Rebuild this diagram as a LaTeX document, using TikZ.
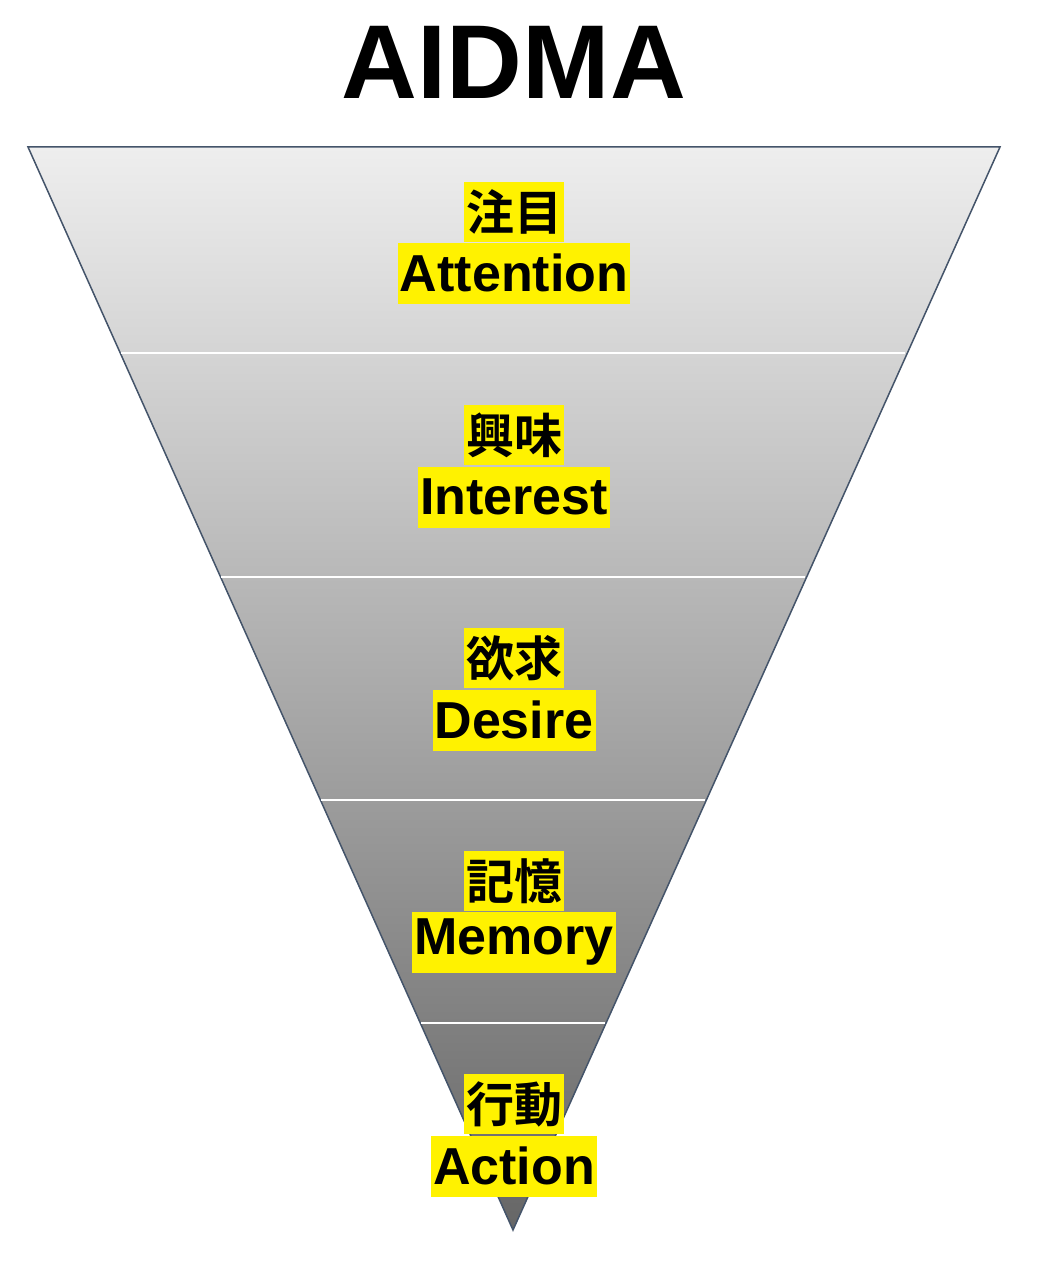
\documentclass[tikz,border=0pt]{standalone}
\usepackage{fontspec}
\setmainfont{Liberation Sans}
\newfontfamily\cjk{Noto Sans CJK JP}[BoldFont={* Bold}]
\begin{document}
\begin{tikzpicture}[x=1pt,y=-1pt,
  jp/.style={fill=yellow,inner xsep=2pt,inner ysep=0pt,minimum height=60pt,font=\cjk\bfseries\fontsize{48}{48}\selectfont},
  en/.style={fill=yellow,inner xsep=2pt,inner ysep=0pt,minimum height=61pt,font=\bfseries\fontsize{52}{52}\selectfont},
  sep/.style={white,line width=2pt}]
\useasboundingbox (0,0) rectangle (1036,1268);
\begin{scope}
\clip (28,147) -- (1000,147) -- (513,1230) -- cycle;
\shade[top color={rgb,255:red,238;green,238;blue,238},bottom color={rgb,255:red,102;green,102;blue,102}] (0,147) rectangle (1036,1230);
\end{scope}
\coordinate (tl) at (28,147); \coordinate (tr) at (1000,147); \coordinate (ap) at (513,1230);
\draw[line width=1.5pt,color={rgb,255:red,68;green,84;blue,106}] (tl) -- (tr) -- (ap) -- cycle;
\foreach \y/\x in {353/120,577/220,800/320,1023/420}{
  \draw[sep] (\x+1,\y) -- (1026-\x-1,\y);
}
\node[font=\bfseries\fontsize{105}{105}\selectfont] (title) at (514,62) {AIDMA};
\node[jp] (j1) at (514,212) {注目};  \node[en] (e1) at (514,273) {Attention};
\node[jp] (j2) at (514,435) {興味};  \node[en] (e2) at (514,497) {Interest};
\node[jp] (j3) at (514,658) {欲求};  \node[en] (e3) at (514,720) {Desire};
\node[jp] (j4) at (514,881) {記憶};  \node[en] (e4) at (514,942) {Memory};
\node[jp] (j5) at (514,1104) {行動}; \node[en] (e5) at (514,1166) {Action};
\end{tikzpicture}
\end{document}
